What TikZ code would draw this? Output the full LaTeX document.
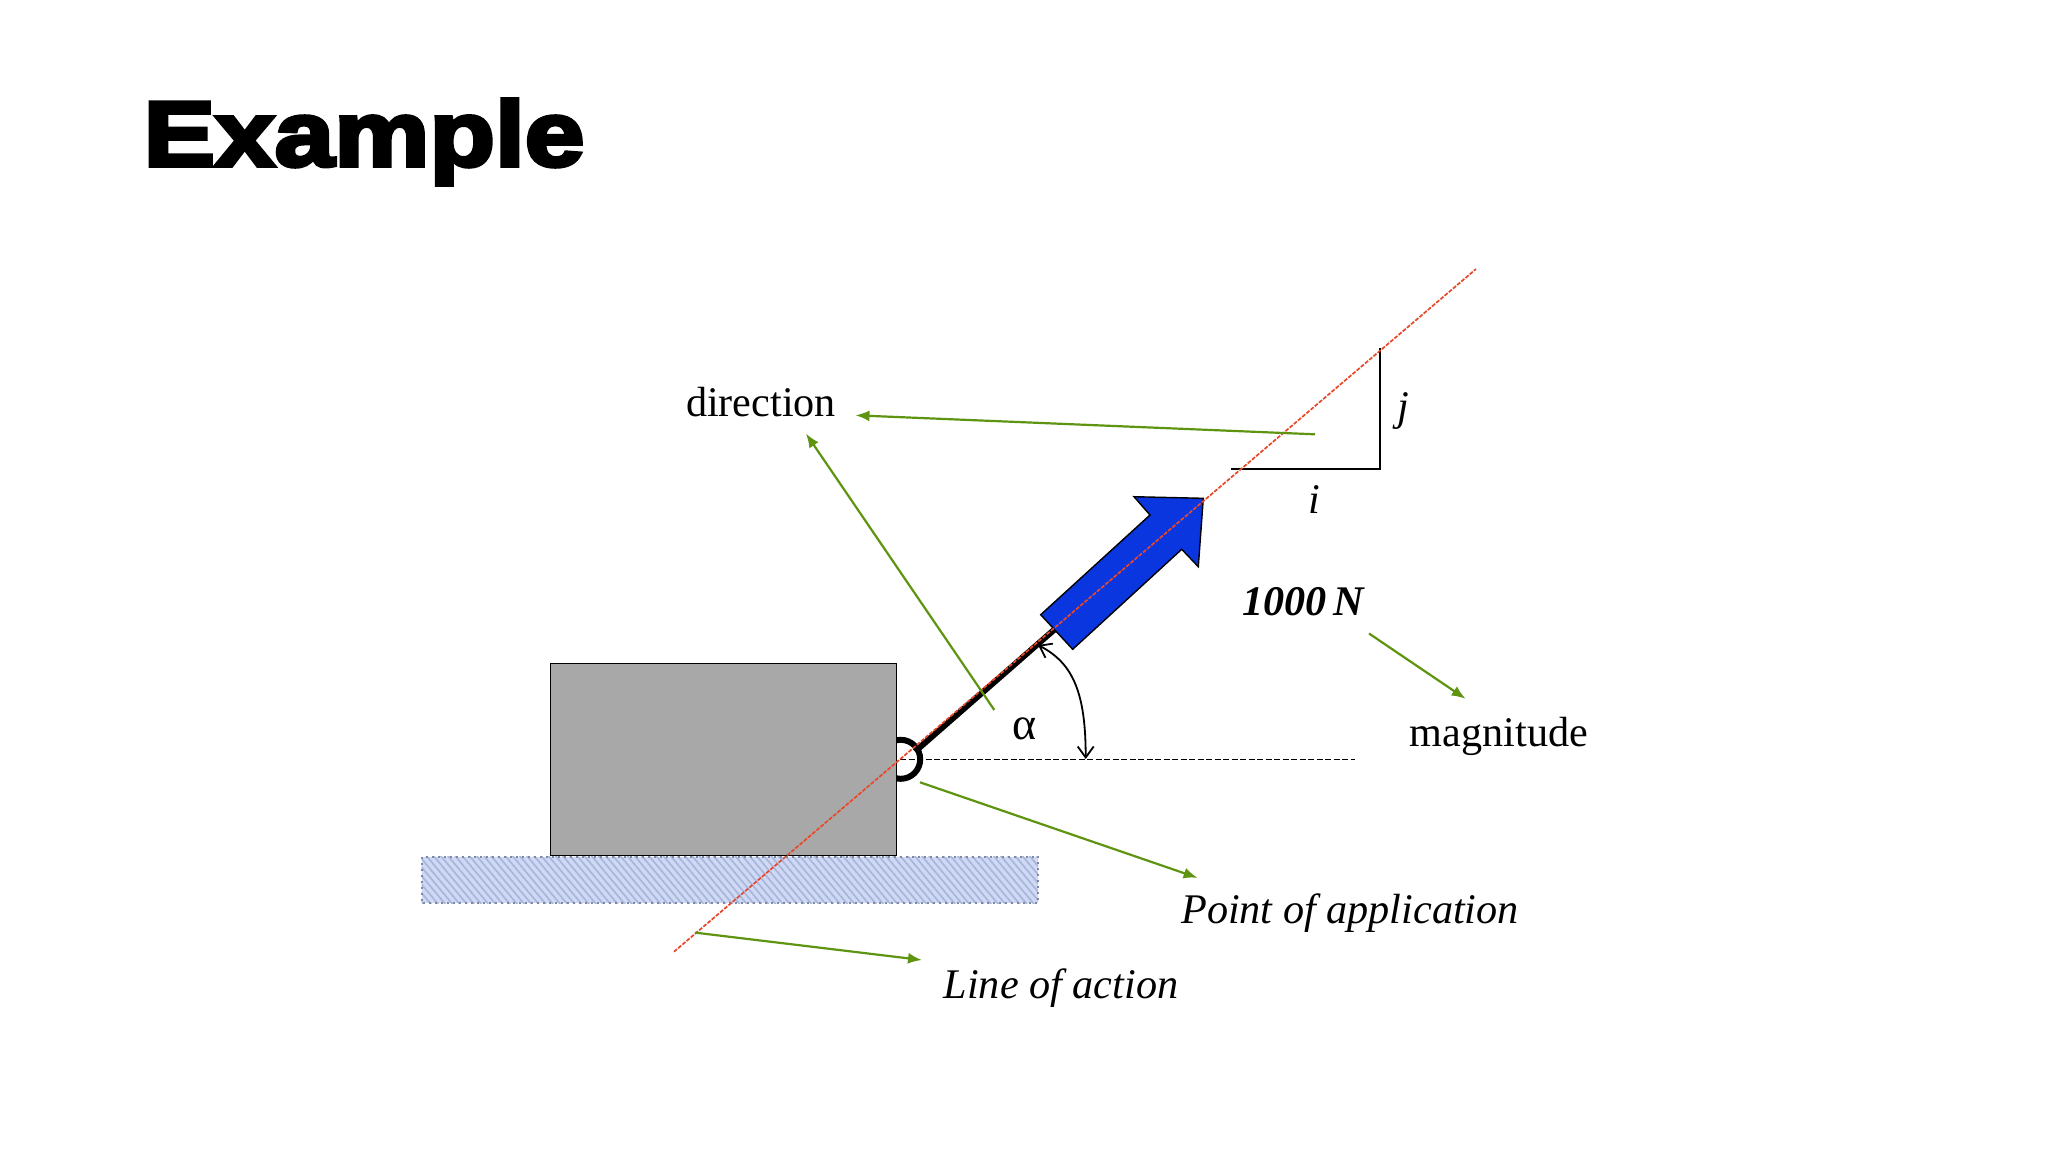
\documentclass[tikz,border=0pt]{standalone}
\usepackage{fontspec}
\setmainfont{Liberation Serif}
\newfontfamily\titlefont[FakeBold=4.5,FakeStretch=1.165]{Liberation Sans Bold}
\usetikzlibrary{arrows.meta,patterns.meta}
\definecolor{grn}{HTML}{5F9410}
\definecolor{redl}{HTML}{E8482A}
\definecolor{arrowblue}{HTML}{0A36E0}
\definecolor{boxgray}{HTML}{A8A8A8}
\definecolor{gndfill}{HTML}{CFD9F5}
\definecolor{gndline}{HTML}{A8B6DA}
\tikzset{
 x=1pt,y=-1pt,
 lbl/.style={inner sep=0pt,font=\fontsize{42.2}{42.2}\selectfont},
 ilbl/.style={lbl,font=\fontsize{42.2}{42.2}\selectfont\itshape},
 callout/.style={draw=grn,line width=2.2pt,-{Latex[length=14pt,width=11pt]}},
 thinblack/.style={draw=black,line width=1.8pt},
 angarrow/.style={draw=black,line width=1.8pt,{Straight Barb[length=11pt,width=16pt]}-{Straight Barb[length=11pt,width=16pt]}},
}
\begin{document}
\begin{tikzpicture}
\useasboundingbox (0,0) rectangle (2048,1152);
\fill[white] (0,0) rectangle (2048,1152);
\node[inner sep=0pt,font=\fontsize{92}{92}\selectfont\titlefont] (title) at (364,142) {Example};
% ground
\fill[gndfill] (421.7,856.7) rectangle (1038,903.3);
\fill[pattern={Lines[angle=-50,distance=5.5pt,line width=1.7pt]},pattern color=gndline] (421.7,856.7) rectangle (1038,903.3);
\draw[gndline!75!black,line width=1.8pt,dash pattern=on 2pt off 4pt] (421.7,856.7) rectangle (1038,903.3);
% hinge ring, then box over it
\node[draw=black,line width=6pt,circle,minimum size=39pt,inner sep=0pt] (ring) at (900.7,759.3) {};
\node[draw=black,fill=boxgray,line width=1.3pt,minimum width=346pt,minimum height=192pt,inner sep=0pt,anchor=north west] (box) at (550,663) {};
% dashed reference
\coordinate (refA) at (900,759.3);
\coordinate (refB) at (1355,759.3);
\draw[black,line width=1.4pt,dash pattern=on 6pt off 2.5pt] (refA) -- (refB);
% rod
\coordinate (rodA) at (915,751.5);
\coordinate (rodB) at (1055,629);
\draw[black,line width=6pt] (rodA) -- (rodB);
% arrow
\draw[black,fill=arrowblue,line width=1.4pt,line join=miter]
 (1040.7,614.7) -- (1150,515) -- (1134,496.7) -- (1203.3,498.3) -- (1198.3,566.7) -- (1181.7,549.3) -- (1072.7,649.3) -- cycle;
% triangle
\coordinate (triA) at (1231,468.7);
\coordinate (triB) at (1380.3,468.7);
\coordinate (triC) at (1380.3,348.3);
\draw[thinblack] (triA) -- (triB) -- (triC);
% angle arc
\coordinate (angA) at (1085.7,759);
\coordinate (angB) at (1038,645);
\draw[angarrow] (angA) .. controls (1085.7,693.3) and (1073.3,663.3) .. (angB);
% line of action
\coordinate (loaA) at (674,951.7);
\coordinate (loaB) at (1476,269);
\draw[redl,line width=1.7pt,dash pattern=on 4pt off 1.5pt] (loaA) -- (loaB);
% text
\node[lbl] (dirn) at (761,402) {direction};
\node[lbl] (magn) at (1499,736) {magnitude};
\node[lbl,font=\fontsize{42.2}{42.2}\selectfont\bfseries\itshape] (force) at (1303,602) {1000\hspace{-4pt} N};
\node[lbl,font=\fontsize{46}{46}\selectfont] (alpha) at (1025,729) {α};
\node[ilbl] (poa) at (1350,913) {Point of application};
\node[ilbl] (loa) at (1061,988) {Line of action};
\node[ilbl] (ilab) at (1314,500) {i};
\node[ilbl] (jlab) at (1403,411) {j};
% callouts
\coordinate (c1a) at (1315,434.3); \coordinate (c1b) at (855.5,415.3);
\coordinate (c2a) at (994.3,710);  \coordinate (c2b) at (806,433.6);
\coordinate (c3a) at (1369,633.5); \coordinate (c3b) at (1465.6,698.8);
\coordinate (c4a) at (920,782.3);  \coordinate (c4b) at (1197.6,877.8);
\coordinate (c5a) at (695,932.6);  \coordinate (c5b) at (922,960);
\draw[callout] (c1a) -- (c1b);
\draw[callout] (c2a) -- (c2b);
\draw[callout] (c3a) -- (c3b);
\draw[callout] (c4a) -- (c4b);
\draw[callout] (c5a) -- (c5b);
\end{tikzpicture}
\end{document}
